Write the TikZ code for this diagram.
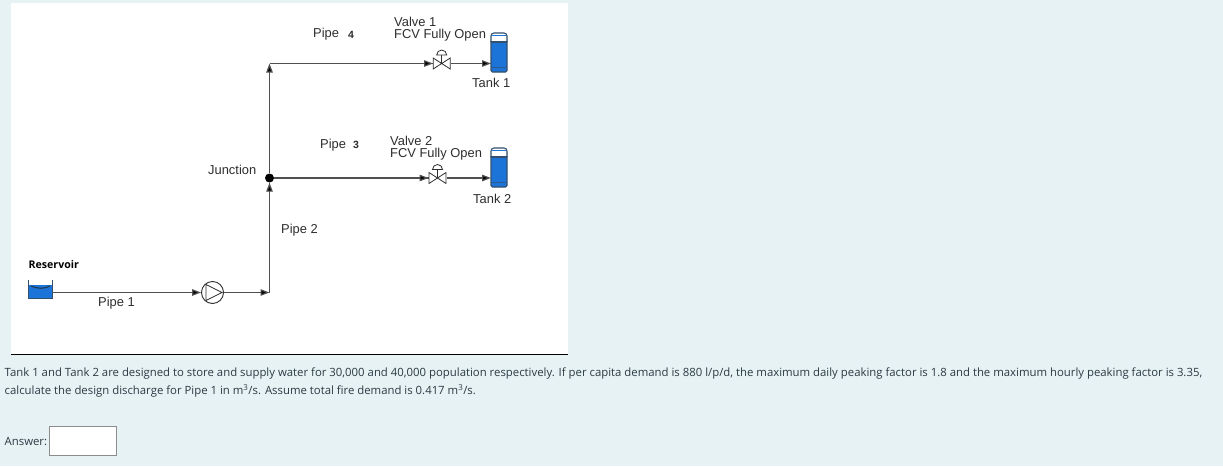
\documentclass[tikz,border=0pt]{standalone}
\usepackage{fontspec}
\setmainfont{Liberation Sans}
\newfontfamily\webfont{Open Sans}
\usetikzlibrary{arrows.meta}
\definecolor{pagebg}{HTML}{E7F2F5}
\definecolor{pipe}{HTML}{505050}
\definecolor{water}{HTML}{1C74D8}
\definecolor{tankedge}{HTML}{34506E}
\definecolor{labelc}{HTML}{2E2E2E}
\definecolor{bodyc}{HTML}{2B3A42}
\tikzset{
  x=1pt,y=-1pt,
  lab/.style={font=\fontsize{12.9}{13}\selectfont,text=labelc,inner sep=0pt,anchor=base west},
  num/.style={font=\bfseries\fontsize{10.5}{11}\selectfont,text=labelc,inner sep=0pt,anchor=base},
  body/.style={font=\webfont\fontsize{11.36}{12}\selectfont,text=bodyc,inner sep=0pt,anchor=base west},
  pipeline/.style={draw=pipe,line width=1.2pt},
  tip/.style={pipeline,-{Triangle[length=9pt,width=6.5pt,fill=black]}},
  vbody/.style={draw=labelc,line width=.8pt,fill=white},
}
\newcommand{\tanksym}[2]{%
  \fill[water,rounded corners=1.5pt] (#1-8,#2-14) rectangle (#1+8,#2+23);
  \fill[white] (#1-8,#2-13) rectangle (#1+8,#2-7);
  \draw[tankedge,line width=1.1pt,rounded corners=3pt] (#1-8,#2-7) -- (#1-8,#2-16) -- (#1+8,#2-16) -- (#1+8,#2-7);
  \draw[tankedge,line width=1.1pt] (#1-8,#2-7) -- (#1+8,#2-7);
  \draw[tankedge,line width=1.1pt,rounded corners=1.5pt] (#1-8,#2-8) -- (#1-8,#2+23) -- (#1+8,#2+23) -- (#1+8,#2-8);
  \draw[tankedge!70!water,line width=.8pt] (#1-8,#2+18) -- (#1+8,#2+18);
}
\newcommand{\valvesym}[2]{%
  \draw[vbody] (#1-8.5,#2-5.5) -- (#1+8.5,#2+5.5) -- (#1+8.5,#2-5.5) -- (#1-8.5,#2+5.5) -- cycle;
  \draw[labelc,line width=.8pt] (#1,#2) -- (#1,#2-8.5);
  \draw[labelc,line width=.8pt,fill=white] (#1-5,#2-8.5) arc[start angle=180,end angle=360,radius=5] -- cycle;
}
\begin{document}
\begin{tikzpicture}
\useasboundingbox (0,0) rectangle (1223,466);
\fill[pagebg] (0,0) rectangle (1223,466);
\fill[white] (11,3) rectangle (568,354);
\draw[black,line width=.8pt] (11,354) -- (568,354);

% reservoir
\fill[water] (28.5,285) rectangle (52,298.5);
\draw[tankedge,line width=1pt] (28.5,280) -- (28.5,298.5) -- (52,298.5) -- (52,280);
\draw[tankedge!70!black,line width=1.1pt] (31,286) .. controls (38,289) and (44,289) .. (50,286);
\node[coordinate] (res) at (52,292.5) {};

% pump
\node[circle,draw=labelc,line width=.9pt,fill=white,minimum size=22pt,inner sep=0pt] (pump) at (212.5,292.5) {};
\draw[labelc,line width=.8pt] (206,284.5) -- (206,300.5) -- (222,292.5) -- cycle;

% junction
\node[circle,fill=black,minimum size=9pt,inner sep=0pt] (junc) at (269.5,178) {};
\coordinate (corner) at (269.5,292.5);
\coordinate (top) at (269.5,63.5);
\coordinate (v1in) at (433,63.5);
\coordinate (v1out) at (451,63.5);
\coordinate (t1) at (491,63.5);
\coordinate (v2in) at (428.5,178);
\coordinate (v2out) at (447,178);
\coordinate (t2) at (491,178);

\draw[tip] (res) -- (pump.west);
\draw[tip] (pump.east) -- (corner);
\draw[pipeline] (corner) -- (junc);
\draw[tip] (corner |- 0,215) -- (junc.south);
\draw[tip] (junc) -- (top);
\draw[pipeline] (top) -- (v1in);
\draw[pipeline] (junc) -- (v2in);
\draw[tip] (v1out) -- (t1);
\draw[tip] (v2out) -- (t2);

% valves
\draw[tip] (420,63.5) -- (v1in);
\draw[tip] (415,178) -- (v2in);
\valvesym{441.7}{63.5}
\valvesym{437.5}{178}
% tanks
\tanksym{499}{49}
\tanksym{499}{164}

% labels
\node[lab] (lv1) at (394,26) {Valve 1};
\node[lab] (lf1) at (394,38.3) {FCV Fully Open};
\node[lab] (lp4) at (313,37.5) {Pipe};
\node[num] (n4) at (351,38) {4};
\node[lab] (lt1) at (472,87.3) {Tank 1};
\node[lab] (lp3) at (320,148) {Pipe};
\node[num] (n3) at (356,148) {3};
\node[lab] (lv2) at (390,145) {Valve 2};
\node[lab] (lf2) at (390,157.7) {FCV Fully Open};
\node[lab] (lj) at (208,174) {Junction};
\node[lab] (lt2) at (473,203.5) {Tank 2};
\node[lab] (lp2) at (281,233) {Pipe 2};
\node[lab] (lp1) at (98,306.5) {Pipe 1};
\node[font=\webfont\bfseries\fontsize{10.6}{11}\selectfont,text=black,inner sep=0pt,anchor=base west] (lr) at (28.5,268.5) {Reservoir};

% question text
\node[body] (q1) at (4.5,376) {Tank 1 and Tank 2 are designed to store and supply water for 30,000 and 40,000 population respectively. If per capita demand is 880 l/p/d, the maximum daily peaking factor is 1.8 and the maximum hourly peaking factor is 3.35,};
\node[body] (q2) at (4.5,394.3) {calculate the design discharge for Pipe 1 in m\textsuperscript{3}/s. Assume total fire demand is 0.417 m\textsuperscript{3}/s.};
\node[body] (ans) at (4.5,445) {Answer:};
\node[draw=black!45,fill=white,line width=.7pt,minimum width=67pt,minimum height=29pt,inner sep=0pt] (box) at (83,440.5) {};
\end{tikzpicture}
\end{document}
